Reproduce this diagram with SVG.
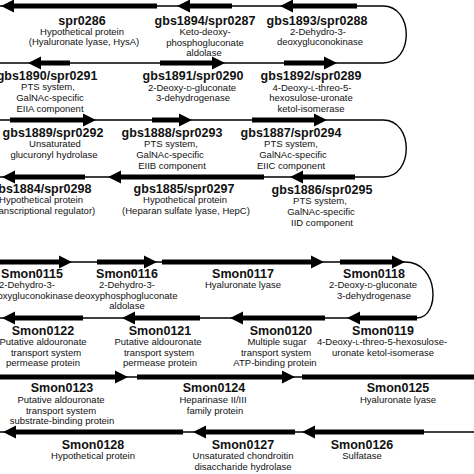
<svg xmlns="http://www.w3.org/2000/svg" width="474" height="474" viewBox="0 0 474 474">
<style>
.bg{fill:#fff}
.ln{fill:none;stroke:#000;stroke-width:1.4}
.ar{fill:#000}
text{font-family:"Liberation Sans",Arial,sans-serif;fill:#111;text-anchor:middle}
.g{font-size:12.5px;font-weight:bold}
.d{font-size:9.5px}
.sc{font-size:7.2px}
</style>
<rect class="bg" width="474" height="474"/>
<g id="connectors">
<path class="ln" d="M0,6 H383 C414,6 414,63 383,63 H0"/>
<path class="ln" d="M0,120 H383 C414,120 414,177 383,177 H0"/>
<path class="ln" d="M0,262 H405 C440,262 440,318 417,318 H0"/>
<path class="ln" d="M0,377 H474"/>
<path class="ln" d="M0,432 H474"/>
</g>
<!-- Row 1 y=6 -->
<g id="spr0286"><polygon class="ar" points="1,6 14,-0.5 14,3.5 157,3.5 157,8.5 14,8.5 14,12.5"/>
<text class="g" x="82" y="25">spr0286</text><text class="d" x="82" y="35">Hypothetical protein</text><text class="d" x="84" y="45">(Hyaluronate lyase, HysA)</text></g>
<g id="gbs1894"><polygon class="ar" points="177,6 190,-0.5 190,3.5 232,3.5 232,8.5 190,8.5 190,12.5"/>
<text class="g" x="205" y="25">gbs1894/spr0287</text><text class="d" x="205" y="35">Keto-deoxy-</text><text class="d" x="205" y="46">phosphogluconate</text><text class="d" x="204" y="56">aldolase</text></g>
<g id="gbs1893"><polygon class="ar" points="280,6 293,-0.5 293,3.5 357,3.5 357,8.5 293,8.5 293,12.5"/>
<text class="g" x="317" y="25">gbs1893/spr0288</text><text class="d" x="318" y="35">2-Dehydro-3-</text><text class="d" x="320" y="45">deoxygluconokinase</text></g>
<!-- Row 2 y=63 -->
<g id="gbs1890"><polygon class="ar" points="28,63 41,56.5 41,60.5 70,60.5 70,65.5 41,65.5 41,69.5"/>
<text class="g" x="47" y="80">gbs1890/spr0291</text><text class="d" x="48" y="90">PTS system,</text><text class="d" x="50" y="101">GalNAc-specific</text><text class="d" x="50" y="112">EIIA component</text></g>
<g id="gbs1891"><polygon class="ar" points="225,63 212,56.5 212,60.5 160,60.5 160,65.5 212,65.5 212,69.5"/>
<text class="g" x="193" y="80">gbs1891/spr0290</text><text class="d" x="192" y="91">2-Deoxy-<tspan class="sc">D</tspan>-gluconate</text><text class="d" x="193" y="101">3-dehydrogenase</text></g>
<g id="gbs1892"><polygon class="ar" points="337,63 324,56.5 324,60.5 284,60.5 284,65.5 324,65.5 324,69.5"/>
<text class="g" x="311" y="80">gbs1892/spr0289</text><text class="d" x="312" y="91">4-Deoxy-<tspan class="sc">L</tspan>-threo-5-</text><text class="d" x="311" y="101">hexosulose-uronate</text><text class="d" x="311" y="112">ketol-isomerase</text></g>
<!-- Row 3 y=120 -->
<g id="gbs1889"><polygon class="ar" points="96,120 83,113.5 83,117.5 10,117.5 10,122.5 83,122.5 83,126.5"/>
<text class="g" x="53" y="137">gbs1889/spr0292</text><text class="d" x="55" y="147">Unsaturated</text><text class="d" x="54" y="158">glucuronyl hydrolase</text></g>
<g id="gbs1888"><polygon class="ar" points="192,120 179,113.5 179,117.5 152,117.5 152,122.5 179,122.5 179,126.5"/>
<text class="g" x="172" y="137">gbs1888/spr0293</text><text class="d" x="171" y="147">PTS system,</text><text class="d" x="170" y="158">GalNAc-specific</text><text class="d" x="172" y="169">EIIB component</text></g>
<g id="gbs1887"><polygon class="ar" points="327,120 314,113.5 314,117.5 252,117.5 252,122.5 314,122.5 314,126.5"/>
<text class="g" x="291" y="137">gbs1887/spr0294</text><text class="d" x="291" y="147">PTS system,</text><text class="d" x="293" y="158">GalNAc-specific</text><text class="d" x="291" y="169">EIIC component</text></g>
<!-- Row 4 y=177 -->
<g id="gbs1884"><polygon class="ar" points="2,177 15,170.5 15,174.5 85,174.5 85,179.5 15,179.5 15,183.5"/>
<text class="g" x="41" y="193">gbs1884/spr0298</text><text class="d" x="41" y="203">Hypothetical protein</text><text class="d" x="41" y="214">(Transcriptional regulator)</text></g>
<g id="gbs1885"><polygon class="ar" points="108,177 121,170.5 121,174.5 264,174.5 264,179.5 121,179.5 121,183.5"/>
<text class="g" x="184" y="193">gbs1885/spr0297</text><text class="d" x="185" y="203">Hypothetical protein</text><text class="d" x="186" y="214">(Heparan sulfate lyase, HepC)</text></g>
<g id="gbs1886"><polygon class="ar" points="290,177 303,170.5 303,174.5 355,174.5 355,179.5 303,179.5 303,183.5"/>
<text class="g" x="322" y="194">gbs1886/spr0295</text><text class="d" x="320" y="204">PTS system,</text><text class="d" x="321" y="215">GalNAc-specific</text><text class="d" x="322" y="226">IID component</text></g>
<!-- Row 5 y=262 -->
<g id="Smon0115"><polygon class="ar" points="72,262 59,255.5 59,259.5 0,259.5 0,264.5 59,264.5 59,268.5"/>
<text class="g" x="32" y="278">Smon0115</text><text class="d" x="27" y="288">2-Dehydro-3-</text><text class="d" x="30" y="299">deoxygluconokinase</text></g>
<g id="Smon0116"><polygon class="ar" points="157,262 144,255.5 144,259.5 97,259.5 97,264.5 144,264.5 144,268.5"/>
<text class="g" x="127" y="278">Smon0116</text><text class="d" x="127" y="288">2-Dehydro-3-</text><text class="d" x="126" y="299">deoxyphosphogluconate</text><text class="d" x="127" y="309">aldolase</text></g>
<g id="Smon0117"><polygon class="ar" points="324,262 311,255.5 311,259.5 162,259.5 162,264.5 311,264.5 311,268.5"/>
<text class="g" x="243" y="278">Smon0117</text><text class="d" x="243" y="288">Hyaluronate lyase</text></g>
<g id="Smon0118"><polygon class="ar" points="405,262 392,255.5 392,259.5 340,259.5 340,264.5 392,264.5 392,268.5"/>
<text class="g" x="374" y="278">Smon0118</text><text class="d" x="373" y="288">2-Deoxy-<tspan class="sc">D</tspan>-gluconate</text><text class="d" x="374" y="299">3-dehydrogenase</text></g>
<!-- Row 6 y=318 -->
<g id="Smon0122"><polygon class="ar" points="2,318 15,311.5 15,315.5 83,315.5 83,320.5 15,320.5 15,324.5"/>
<text class="g" x="43" y="335">Smon0122</text><text class="d" x="43" y="345">Putative aldouronate</text><text class="d" x="46" y="356">transport system</text><text class="d" x="43" y="366">permease protein</text></g>
<g id="Smon0121"><polygon class="ar" points="122,318 135,311.5 135,315.5 200,315.5 200,320.5 135,320.5 135,324.5"/>
<text class="g" x="160" y="335">Smon0121</text><text class="d" x="158" y="345">Putative aldouronate</text><text class="d" x="159" y="356">transport system</text><text class="d" x="160" y="366">permease protein</text></g>
<g id="Smon0120"><polygon class="ar" points="230,318 243,311.5 243,315.5 325,315.5 325,320.5 243,320.5 243,324.5"/>
<text class="g" x="281" y="335">Smon0120</text><text class="d" x="277" y="345">Multiple sugar</text><text class="d" x="276" y="356">transport system</text><text class="d" x="275" y="366">ATP-binding protein</text></g>
<g id="Smon0119"><polygon class="ar" points="347,318 360,311.5 360,315.5 417,315.5 417,320.5 360,320.5 360,324.5"/>
<text class="g" x="383" y="335">Smon0119</text><text class="d" x="382" y="345">4-Deoxy-<tspan class="sc">L</tspan>-threo-5-hexosulose-</text><text class="d" x="383" y="356">uronate ketol-isomerase</text></g>
<!-- Row 7 y=377 -->
<g id="Smon0123"><polygon class="ar" points="128,377 115,370.5 115,374.5 0,374.5 0,379.5 115,379.5 115,383.5"/>
<text class="g" x="62" y="392">Smon0123</text><text class="d" x="61" y="403">Putative aldouronate</text><text class="d" x="61" y="414">transport system</text><text class="d" x="62" y="424">substrate-binding protein</text></g>
<g id="Smon0124"><polygon class="ar" points="295,377 282,370.5 282,374.5 137,374.5 137,379.5 282,379.5 282,383.5"/>
<text class="g" x="214" y="392">Smon0124</text><text class="d" x="213" y="403">Heparinase II/III</text><text class="d" x="215" y="414">family protein</text></g>
<g id="Smon0125"><rect class="ar" x="302" y="374.5" width="172" height="5"/>
<text class="g" x="398" y="392">Smon0125</text><text class="d" x="398" y="403">Hyaluronate lyase</text></g>
<!-- Row 8 y=432 -->
<g id="Smon0128"><polygon class="ar" points="3,432 16,425.5 16,429.5 183,429.5 183,434.5 16,434.5 16,438.5"/>
<text class="g" x="93" y="449">Smon0128</text><text class="d" x="93" y="459">Hypothetical protein</text></g>
<g id="Smon0127"><polygon class="ar" points="193,432 206,425.5 206,429.5 295,429.5 295,434.5 206,434.5 206,438.5"/>
<text class="g" x="243" y="449">Smon0127</text><text class="d" x="243" y="459">Unsaturated chondroitin</text><text class="d" x="243" y="470">disaccharide hydrolase</text></g>
<g id="Smon0126"><polygon class="ar" points="302,432 315,425.5 315,429.5 424,429.5 424,434.5 315,434.5 315,438.5"/>
<text class="g" x="362" y="449">Smon0126</text><text class="d" x="362" y="459">Sulfatase</text></g>
</svg>
